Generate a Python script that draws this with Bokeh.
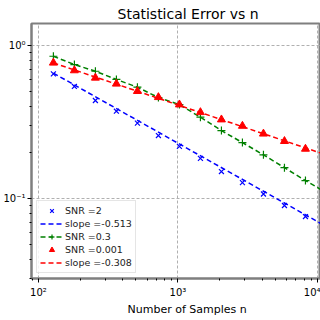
from bokeh.plotting import figure
from bokeh.models import (Range1d, Legend, LegendItem, Title, CustomJSTickFormatter,
                          FixedTicker)
from bokeh.embed import file_html
from bokeh.resources import INLINE

# ---- data ----
n_samples = [128, 181, 256, 362, 512, 724, 1024, 1448, 2048, 2896, 4096, 5793, 8192]
n_samples_green = [128, 181, 256, 362, 512, 724, 1024, 1448, 2048, 2896, 4096, 5793, 8192, 11585]

err_snr2 = [0.653, 0.540, 0.437, 0.372, 0.311, 0.258, 0.219, 0.183, 0.150, 0.127, 0.107, 0.090, 0.0762]
err_snr03 = [0.851, 0.751, 0.679, 0.600, 0.534, 0.457, 0.411, 0.340, 0.278, 0.232, 0.193, 0.159, 0.131, 0.109]
err_snr0001 = [0.771, 0.687, 0.615, 0.562, 0.503, 0.459, 0.411, 0.366, 0.328, 0.298, 0.265, 0.237, 0.211]

fit_n = [128, 16384]
fit_snr2 = [0.660, 0.0548]      # slope -0.513
fit_snr0001 = [0.770, 0.173]    # slope -0.308

labels = ["SNR =2", "slope =-0.513", "SNR =0.3", "SNR =0.001", "slope =-0.308"]
title_text = "Statistical Error vs n"
xlabel_text = "Number of Samples n"

major_ticks = [0.001, 0.01, 0.1, 1, 10, 100, 1000, 10000, 100000]
minor_ticks = [m * 10 ** k for k in range(-3, 5) for m in range(2, 10)]

FONT = "DejaVu Sans"
BLUE, GREEN, RED = "#0000ff", "#008000", "#ff0000"

p = figure(width=320, height=320, x_axis_type="log", y_axis_type="log",
           x_range=Range1d(89.2, 10500), y_range=Range1d(0.030, 1.393),
           output_backend="svg", toolbar_location=None,
           min_border_left=27, min_border_right=0, min_border_top=23, min_border_bottom=42)
p.background_fill_color = "white"
p.border_fill_color = "white"
p.outline_line_color = "#7f7f7f"
p.outline_line_width = 2

p.title.text = title_text
p.title.align = "left"
p.title.offset = 86
p.title.standoff = 4
p.title.text_font = FONT
p.title.text_font_size = "14px"
p.title.text_font_style = "normal"
p.title.text_color = "black"

p.add_layout(Title(text=xlabel_text, align="left", offset=96, text_font=FONT,
                   text_font_size="11px", text_font_style="normal", text_color="black",
                   standoff=0), "below")

fmt = CustomJSTickFormatter(code="""
const sup = {"0":"\u2070","1":"\u00b9","2":"\u00b2","3":"\u00b3","4":"\u2074","5":"\u2075",
             "6":"\u2076","7":"\u2077","8":"\u2078","9":"\u2079","-":"\u207b"};
const e = Math.round(Math.log10(tick));
return "10" + String(e).split("").map(c => sup[c]).join("");
""")

for ax in (p.xaxis[0], p.yaxis[0]):
    ax.ticker = FixedTicker(ticks=major_ticks, minor_ticks=minor_ticks)
    ax.formatter = fmt
    ax.axis_line_color = "#7f7f7f"
    ax.axis_line_width = 2
    ax.major_tick_out = 4
    ax.major_tick_in = 0
    ax.minor_tick_out = 2
    ax.minor_tick_in = 0
    ax.major_tick_line_color = "black"
    ax.minor_tick_line_color = "black"
    ax.major_label_text_font = FONT
    ax.major_label_text_font_size = "10px"
    ax.major_label_text_color = "black"
p.xaxis.major_label_standoff = 4
p.yaxis.major_label_standoff = 2

for g in (p.xgrid[0], p.ygrid[0]):
    g.grid_line_color = "#b0b0b0"
    g.grid_line_dash = "3 2"
    g.grid_line_width = 1

r_b = p.scatter(n_samples, err_snr2, marker="x", size=7, line_color=BLUE, line_width=1.2)
r_bf = p.line(fit_n, fit_snr2, line_color=BLUE, line_width=1.5, line_dash="5 3")
r_gl = p.line(n_samples_green, err_snr03, line_color=GREEN, line_width=1.5, line_dash="5 3")
r_gm = p.scatter(n_samples_green, err_snr03, marker="cross", size=8, line_color=GREEN, line_width=1.2)
r_r = p.scatter(n_samples, err_snr0001, marker="triangle", size=8, fill_color=RED, line_color=RED)
r_rf = p.line(fit_n, fit_snr0001, line_color=RED, line_width=1.5, line_dash="5 3")

legend = Legend(items=[
    LegendItem(label=labels[0], renderers=[r_b]),
    LegendItem(label=labels[1], renderers=[r_bf]),
    LegendItem(label=labels[2], renderers=[r_gl, r_gm]),
    LegendItem(label=labels[3], renderers=[r_r]),
    LegendItem(label=labels[4], renderers=[r_rf]),
], location="bottom_left")
legend.label_text_font = FONT
legend.label_text_font_size = "9.5px"
legend.label_text_color = "#222222"
legend.glyph_width = 23
legend.glyph_height = 13
legend.label_height = 13
legend.label_standoff = 2
legend.spacing = 0
legend.padding = 3
legend.margin = 5
legend.border_line_color = "#cccccc"
legend.border_line_width = 1
legend.background_fill_alpha = 0.85
p.add_layout(legend)

open("out.html", "w").write(file_html(p, INLINE))
